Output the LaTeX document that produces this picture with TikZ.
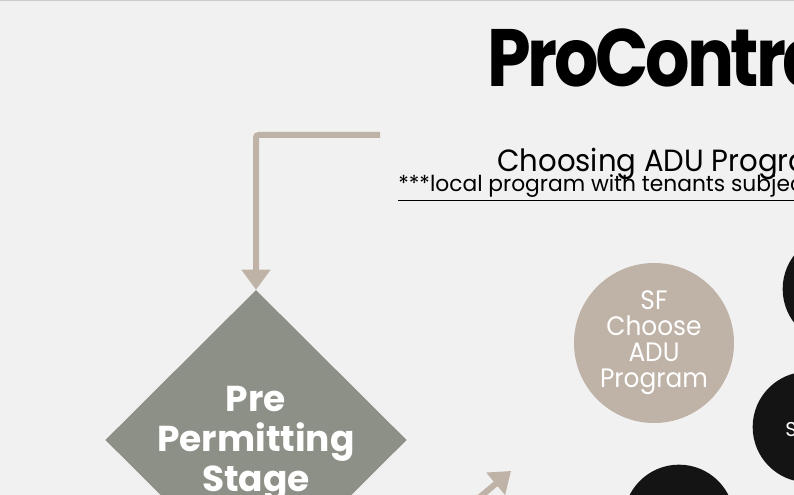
\documentclass[tikz,border=0pt]{standalone}
\usepackage{fontspec}
\setmainfont{Poppins}
\usetikzlibrary{shapes.geometric,arrows.meta}

\definecolor{bgpaper}{HTML}{F1F1F1}
\definecolor{tanline}{HTML}{BFB2A6}
\definecolor{sage}{HTML}{8D9087}
\definecolor{inkblack}{HTML}{141414}

\tikzset{
    flowline/.style={draw=tanline, line width=4.5pt, rounded corners=2pt},
    bluntarrow/.style={-{Triangle[width=21pt,length=15pt]}},
    stagebox/.style={diamond, fill=sage, inner sep=0pt, minimum width=226pt, minimum height=225pt},
    programdot/.style={circle, fill=tanline, inner sep=0pt, minimum size=120pt},
    blackdot/.style={circle, fill=inkblack, inner sep=0pt, minimum size=83pt},
    whitetext/.style={text=white, align=center}
}

\begin{document}
\begin{tikzpicture}[x=0.75pt, y=-0.75pt]
    \useasboundingbox (0,0) rectangle (794,495);
    \clip (0,0) rectangle (794,495);
    \fill[bgpaper] (0,0) rectangle (794,495);
    \draw[gray!40, line width=1pt] (0,0.5) -- (794,0.5);

    % heading
    \node [anchor=base west, inner sep=0pt] (brand) at (487,87)
        {\fontsize{61}{61}\selectfont\bfseries\addfontfeatures{FakeStretch=0.86,LetterSpace=-4}ProContra};
    \node [anchor=base west, inner sep=0pt] (heading) at (497,172)
        {\fontsize{23}{24}\selectfont\addfontfeatures{FakeStretch=0.95}Choosing ADU Program};
    \node [anchor=base west, inner sep=0pt] (note) at (398,192)
        {\fontsize{16.5}{17}\selectfont\addfontfeatures{FakeStretch=0.99}\underline{***local program with tenants subject}};

    % shapes
    \node [stagebox] (pre) at (256,440) {};
    \node [whitetext, font={\fontsize{27}{30}\selectfont\bfseries}] (prelabel) at (256,444) {Pre\\Permitting\\Stage};
    \node [programdot, whitetext, font={\fontsize{20}{19.5}\selectfont\addfontfeatures{FakeStretch=0.93}}] (sf) at (654,343) {SF\\Choose\\ADU\\Program};
    \node [blackdot] (topdot) at (838,289) {};
    \node [blackdot] (middot) at (808,427) {};
    \node [anchor=base west, inner sep=0pt, text=white, font={\fontsize{15}{15}\selectfont}] (midlabel) at (785,437) {S};
    \node [blackdot] (lowdot) at (679,520) {};

    % connectors
    \coordinate (start) at (380,135);
    \coordinate (tail) at (468,507);
    \coordinate (head) at (511,471);
    \draw [flowline, bluntarrow] (start) -| (pre.north);
    \draw [flowline, bluntarrow] (tail) -- (head);
\end{tikzpicture}
\end{document}
